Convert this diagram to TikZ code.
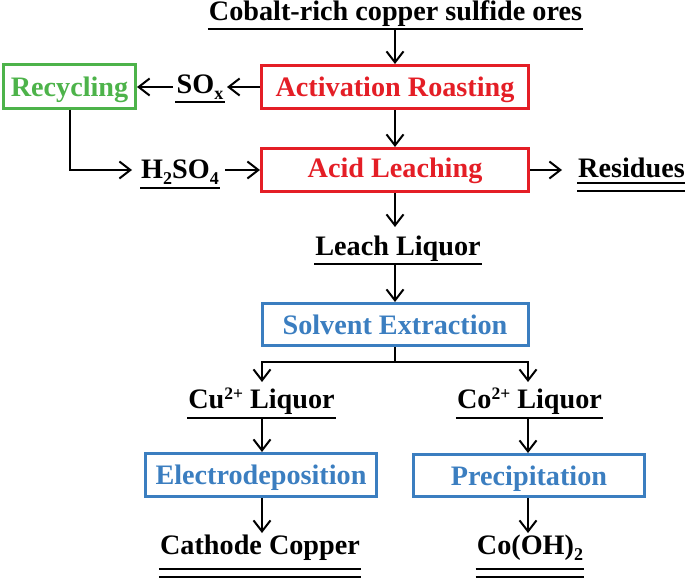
\documentclass[tikz,border=0pt]{standalone}
\usepackage{fontspec}
\setmainfont{Liberation Serif}
\usetikzlibrary{arrows.meta}
\definecolor{cred}{RGB}{228,30,38}
\definecolor{cgreen}{RGB}{77,179,74}
\definecolor{cblue}{RGB}{59,126,192}
\newcommand{\mysub}[1]{\raisebox{-6pt}{\fontsize{18}{18}\selectfont #1}}
\newcommand{\mysup}[1]{\raisebox{9pt}{\fontsize{17.5}{17.5}\selectfont #1}}
\begin{document}
\begin{tikzpicture}[x=1pt,y=-1pt,
  font=\fontsize{28.2}{30}\selectfont\bfseries,
  box/.style={draw, line width=3pt, inner sep=0pt, text height=20pt, text depth=1pt},
  rbox/.style={box, draw=cred, text=cred},
  gbox/.style={box, draw=cgreen, text=cgreen},
  bbox/.style={box, draw=cblue, text=cblue},
  lab/.style={inner xsep=1pt, inner ysep=0pt, anchor=base},
  arr/.style={-{Straight Barb[length=11pt,width=17pt]}, line width=2pt},
  ln/.style={line width=2pt}]
\useasboundingbox (0,0) rectangle (685,578);

% boxes
\node[rbox, minimum width=267pt, minimum height=43pt] (act) at (395,87) {Activation Roasting};
\node[gbox, minimum width=132pt, minimum height=43pt] (rec) at (69.5,86.5) {Recycling};
\node[rbox, minimum width=267pt, minimum height=43pt, text depth=6pt] (acid) at (395,170) {Acid Leaching};
\node[bbox, minimum width=266pt, minimum height=42pt] (solv) at (395,324.5) {Solvent Extraction};
\node[bbox, minimum width=231pt, minimum height=43pt] (elec) at (261,475) {Electrodeposition};
\node[bbox, minimum width=231pt, minimum height=42pt] (prec) at (529,475.5) {Precipitation};

% labels
\node[lab] (title) at (395.5,21) {Cobalt-rich copper sulfide ores};
\node[lab] (sox) at (200,93) {SO\mysub{x}};
\node[lab] (h2) at (180,178) {H\mysub{2}SO\mysub{4}};
\node[lab] (res) at (631.5,177) {Residues};
\node[lab] (leach) at (398,255) {Leach Liquor};
\node[lab] (cu) at (261.5,408) {Cu\mysup{2+} Liquor};
\node[lab] (co) at (529.5,408) {Co\mysup{2+} Liquor};
\node[lab] (cath) at (260,554) {Cathode Copper};
\node[lab] (cooh) at (530,554) {Co(OH)\mysub{2}};

% underlines
\draw[ln] (title.west |- 0,29) -- (title.east |- 0,29);
\draw[ln] (sox.west |- 0,102) -- (sox.east |- 0,102);
\draw[ln] (h2.west |- 0,188) -- (h2.east |- 0,188);
\draw[ln] (res.west |- 0,183) -- (res.east |- 0,183);
\draw[ln] (res.west |- 0,191) -- (res.east |- 0,191);
\draw[ln] (leach.west |- 0,264) -- (leach.east |- 0,264);
\draw[ln] (cu.west |- 0,418) -- (cu.east |- 0,418);
\draw[ln] (co.west |- 0,418) -- (co.east |- 0,418);
\draw[ln] (cath.west |- 0,569) -- (cath.east |- 0,569);
\draw[ln] (cath.west |- 0,577) -- (cath.east |- 0,577);
\draw[ln] (cooh.west |- 0,569) -- (cooh.east |- 0,569);
\draw[ln] (cooh.west |- 0,577) -- (cooh.east |- 0,577);

% connector end points
\coordinate (tU) at (395,29);
\coordinate (soxR) at (227,87);
\coordinate (soxL) at (173,87);
\coordinate (h2L) at (132,170);
\coordinate (h2R) at (225,170);
\coordinate (resL) at (562,170);
\coordinate (leachT) at (395,227);
\coordinate (leachU) at (395,264);
\coordinate (br) at (395,362);
\coordinate (cuT) at (262,382);
\coordinate (coT) at (528,382);
\coordinate (cuU) at (262,418);
\coordinate (coU) at (528,418);
\coordinate (cathT) at (262,533);
\coordinate (coohT) at (528,533);

% connectors
\draw[arr] (tU) -- (act.north);
\draw[arr] (act.west) -- (soxR);
\draw[arr] (soxL) -- (rec.east |- soxL);
\draw[arr] (rec.south) |- (h2L);
\draw[arr] (h2R) -- (acid.west);
\draw[arr] (act.south) -- (acid.north);
\draw[arr] (acid.east) -- (resL);
\draw[arr] (acid.south) -- (leachT);
\draw[arr] (leachU) -- (solv.north);
\draw[ln] (solv.south) -- (br);
\draw[arr] (br) -| (cuT);
\draw[arr] (br) -| (coT);
\draw[arr] (cuU) -- (elec.north -| cuU);
\draw[arr] (coU) -- (prec.north -| coU);
\draw[arr] (elec.south -| cathT) -- (cathT);
\draw[arr] (prec.south -| coohT) -- (coohT);
\end{tikzpicture}
\end{document}
